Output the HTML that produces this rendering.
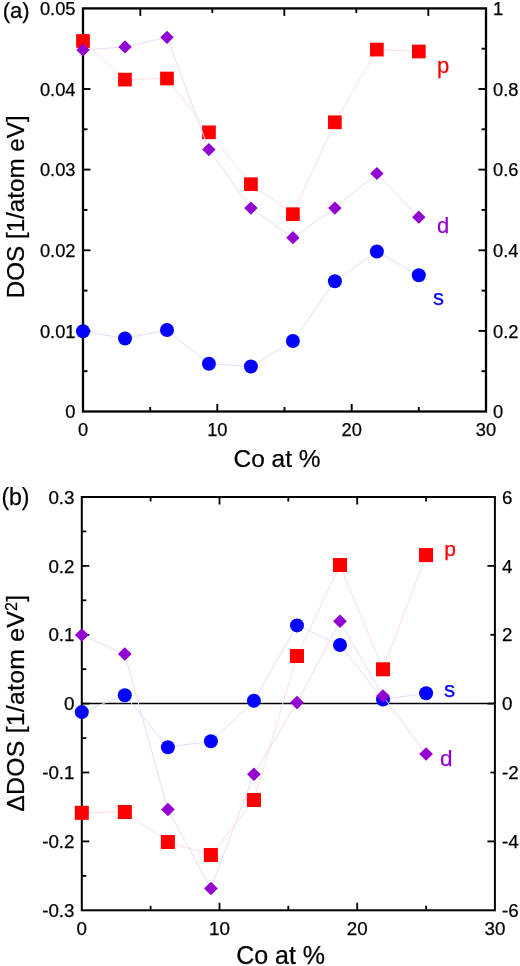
<!DOCTYPE html><html><head><meta charset="utf-8"><title>DOS vs Co at %</title>
<style>html,body{margin:0;padding:0;background:#fff}svg{display:block}text{font-family:"Liberation Sans",Arial,sans-serif;fill:#000;stroke:#000;stroke-width:.25px}</style></head><body>
<svg width="520" height="966" viewBox="0 0 520 966">
<rect width="520" height="966" fill="#fff"/>
<g stroke="#000" stroke-width="1.90" fill="none"><path d="M217.3 411.5v-7.5"/><path d="M351.7 411.5v-7.5"/><path d="M150.2 411.5v-4.5"/><path d="M284.5 411.5v-4.5"/><path d="M418.8 411.5v-4.5"/><path d="M140.3 8.4v7.5"/><path d="M284.3 8.4v7.5"/><path d="M428.3 8.4v7.5"/><path d="M212.3 8.4v4.5"/><path d="M356.3 8.4v4.5"/><path d="M83.0 330.9h7.5"/><path d="M83.0 250.3h7.5"/><path d="M83.0 169.6h7.5"/><path d="M83.0 89.0h7.5"/><path d="M83.0 371.2h4.5"/><path d="M83.0 290.6h4.5"/><path d="M83.0 209.9h4.5"/><path d="M83.0 129.3h4.5"/><path d="M83.0 48.7h4.5"/><path d="M486.0 330.9h-7.5"/><path d="M486.0 250.3h-7.5"/><path d="M486.0 169.6h-7.5"/><path d="M486.0 89.0h-7.5"/><path d="M486.0 371.2h-4.5"/><path d="M486.0 290.6h-4.5"/><path d="M486.0 209.9h-4.5"/><path d="M486.0 129.3h-4.5"/><path d="M486.0 48.7h-4.5"/></g><rect x="83.00" y="8.40" width="403.00" height="403.10" fill="none" stroke="#000" stroke-width="2.30"/>
<polyline fill="none" stroke="#dcdfff" stroke-width="1" points="83.0,331.2 125.0,338.5 167.0,330.0 208.9,363.8 250.9,366.5 292.9,341.0 334.9,281.2 376.9,251.5 418.8,275.2"/>
<circle cx="83.0" cy="331.2" r="7.00" fill="#0404fb"/>
<circle cx="125.0" cy="338.5" r="7.00" fill="#0404fb"/>
<circle cx="167.0" cy="330.0" r="7.00" fill="#0404fb"/>
<circle cx="208.9" cy="363.8" r="7.00" fill="#0404fb"/>
<circle cx="250.9" cy="366.5" r="7.00" fill="#0404fb"/>
<circle cx="292.9" cy="341.0" r="7.00" fill="#0404fb"/>
<circle cx="334.9" cy="281.2" r="7.00" fill="#0404fb"/>
<circle cx="376.9" cy="251.5" r="7.00" fill="#0404fb"/>
<circle cx="418.8" cy="275.2" r="7.00" fill="#0404fb"/>
<polyline fill="none" stroke="#ffdde0" stroke-width="1" points="83.0,41.0 125.0,79.6 167.0,78.5 208.9,132.3 250.9,184.2 292.9,214.2 334.9,122.3 376.9,49.6 418.8,51.5"/>
<rect x="76.15" y="34.15" width="13.70" height="13.70" fill="#ff0000"/>
<rect x="118.13" y="72.75" width="13.70" height="13.70" fill="#ff0000"/>
<rect x="160.11" y="71.65" width="13.70" height="13.70" fill="#ff0000"/>
<rect x="202.09" y="125.45" width="13.70" height="13.70" fill="#ff0000"/>
<rect x="244.07" y="177.35" width="13.70" height="13.70" fill="#ff0000"/>
<rect x="286.05" y="207.35" width="13.70" height="13.70" fill="#ff0000"/>
<rect x="328.02" y="115.45" width="13.70" height="13.70" fill="#ff0000"/>
<rect x="370.00" y="42.75" width="13.70" height="13.70" fill="#ff0000"/>
<rect x="411.98" y="44.65" width="13.70" height="13.70" fill="#ff0000"/>
<polyline fill="none" stroke="#eed8f4" stroke-width="1" points="83.0,50.0 125.0,46.9 167.0,37.3 208.9,149.6 250.9,208.1 292.9,237.7 334.9,208.1 376.9,173.5 418.8,217.2"/>
<path d="M83.0 43.40l6.70 6.60 -6.70 6.60 -6.70 -6.60z" fill="#9200d2"/>
<path d="M125.0 40.30l6.70 6.60 -6.70 6.60 -6.70 -6.60z" fill="#9200d2"/>
<path d="M167.0 30.70l6.70 6.60 -6.70 6.60 -6.70 -6.60z" fill="#9200d2"/>
<path d="M208.9 143.00l6.70 6.60 -6.70 6.60 -6.70 -6.60z" fill="#9200d2"/>
<path d="M250.9 201.50l6.70 6.60 -6.70 6.60 -6.70 -6.60z" fill="#9200d2"/>
<path d="M292.9 231.10l6.70 6.60 -6.70 6.60 -6.70 -6.60z" fill="#9200d2"/>
<path d="M334.9 201.50l6.70 6.60 -6.70 6.60 -6.70 -6.60z" fill="#9200d2"/>
<path d="M376.9 166.90l6.70 6.60 -6.70 6.60 -6.70 -6.60z" fill="#9200d2"/>
<path d="M418.8 210.60l6.70 6.60 -6.70 6.60 -6.70 -6.60z" fill="#9200d2"/>
<g font-size="18.3" text-anchor="end">
<text x="75.5" y="418.1">0</text>
<text x="75.5" y="337.5">0.01</text>
<text x="75.5" y="256.9">0.02</text>
<text x="75.5" y="176.2">0.03</text>
<text x="75.5" y="95.6">0.04</text>
<text x="75.5" y="15.0">0.05</text>
</g><g font-size="18.3" text-anchor="start">
<text x="493" y="418.1">0</text>
<text x="493" y="337.5">0.2</text>
<text x="493" y="256.9">0.4</text>
<text x="493" y="176.2">0.6</text>
<text x="493" y="95.6">0.8</text>
<text x="493" y="15.0">1</text>
</g><g font-size="18.3" text-anchor="middle">
<text x="83.0" y="435.8">0</text>
<text x="217.3" y="435.8">10</text>
<text x="351.7" y="435.8">20</text>
<text x="486.0" y="435.8">30</text>
</g>
<text x="277" y="467" font-size="24.4" text-anchor="middle">Co at %</text>
<text transform="translate(24,206.8) rotate(-90)" font-size="24.2" text-anchor="middle">DOS [1/atom eV]</text>
<text x="2.8" y="18.2" font-size="22">(a)</text>
<text x="437" y="73" font-size="22" style="fill:#ff0000;stroke:#ff0000">p</text>
<text x="437" y="233" font-size="22" style="fill:#9200d2;stroke:#9200d2">d</text>
<text x="433" y="305" font-size="22" style="fill:#0404fb;stroke:#0404fb">s</text>
<path d="M81.8 703.6H494.9" stroke="#000" stroke-width="1.5"/>
<g stroke="#000" stroke-width="1.80" fill="none"><path d="M219.5 910.3v-7.5"/><path d="M357.2 910.3v-7.5"/><path d="M150.6 910.3v-4.5"/><path d="M288.3 910.3v-4.5"/><path d="M426.1 910.3v-4.5"/><path d="M219.5 497.0v7.5"/><path d="M357.2 497.0v7.5"/><path d="M150.6 497.0v4.5"/><path d="M288.3 497.0v4.5"/><path d="M426.1 497.0v4.5"/><path d="M81.8 841.4h7.5"/><path d="M81.8 772.5h7.5"/><path d="M81.8 703.6h7.5"/><path d="M81.8 634.8h7.5"/><path d="M81.8 565.9h7.5"/><path d="M81.8 875.9h4.5"/><path d="M81.8 807.0h4.5"/><path d="M81.8 738.1h4.5"/><path d="M81.8 669.2h4.5"/><path d="M81.8 600.3h4.5"/><path d="M81.8 531.4h4.5"/><path d="M494.9 841.4h-7.5"/><path d="M494.9 703.6h-7.5"/><path d="M494.9 565.9h-7.5"/><path d="M494.9 772.5h-4.5"/><path d="M494.9 634.8h-4.5"/></g><rect x="81.80" y="497.00" width="413.10" height="413.30" fill="none" stroke="#000" stroke-width="2.00"/>
<polyline fill="none" stroke="#dcdfff" stroke-width="1" points="81.8,712.1 124.8,695.2 167.9,747.2 210.9,741.3 253.9,700.7 297.0,625.4 340.0,645.0 383.0,699.5 426.1,693.2"/>
<circle cx="81.8" cy="712.1" r="7.00" fill="#0404fb"/>
<circle cx="124.8" cy="695.2" r="7.00" fill="#0404fb"/>
<circle cx="167.9" cy="747.2" r="7.00" fill="#0404fb"/>
<circle cx="210.9" cy="741.3" r="7.00" fill="#0404fb"/>
<circle cx="253.9" cy="700.7" r="7.00" fill="#0404fb"/>
<circle cx="297.0" cy="625.4" r="7.00" fill="#0404fb"/>
<circle cx="340.0" cy="645.0" r="7.00" fill="#0404fb"/>
<circle cx="383.0" cy="699.5" r="7.00" fill="#0404fb"/>
<circle cx="426.1" cy="693.2" r="7.00" fill="#0404fb"/>
<polyline fill="none" stroke="#ffdde0" stroke-width="1" points="81.8,812.8 124.8,812.0 167.9,842.0 210.9,855.0 253.9,800.0 297.0,656.0 340.0,565.0 383.0,669.3 426.1,555.1"/>
<rect x="74.78" y="805.78" width="14.04" height="14.04" fill="#ff0000"/>
<rect x="117.81" y="804.98" width="14.04" height="14.04" fill="#ff0000"/>
<rect x="160.84" y="834.98" width="14.04" height="14.04" fill="#ff0000"/>
<rect x="203.87" y="847.98" width="14.04" height="14.04" fill="#ff0000"/>
<rect x="246.90" y="792.98" width="14.04" height="14.04" fill="#ff0000"/>
<rect x="289.94" y="648.98" width="14.04" height="14.04" fill="#ff0000"/>
<rect x="332.97" y="557.98" width="14.04" height="14.04" fill="#ff0000"/>
<rect x="376.00" y="662.28" width="14.04" height="14.04" fill="#ff0000"/>
<rect x="419.03" y="548.08" width="14.04" height="14.04" fill="#ff0000"/>
<polyline fill="none" stroke="#eed8f4" stroke-width="1" points="81.8,635.1 124.8,654.1 167.9,809.6 210.9,888.5 253.9,774.3 297.0,702.5 340.0,621.3 383.0,696.1 426.1,754.1"/>
<path d="M81.8 628.34l6.87 6.76 -6.87 6.76 -6.87 -6.76z" fill="#9200d2"/>
<path d="M124.8 647.34l6.87 6.76 -6.87 6.76 -6.87 -6.76z" fill="#9200d2"/>
<path d="M167.9 802.84l6.87 6.76 -6.87 6.76 -6.87 -6.76z" fill="#9200d2"/>
<path d="M210.9 881.74l6.87 6.76 -6.87 6.76 -6.87 -6.76z" fill="#9200d2"/>
<path d="M253.9 767.53l6.87 6.76 -6.87 6.76 -6.87 -6.76z" fill="#9200d2"/>
<path d="M297.0 695.74l6.87 6.76 -6.87 6.76 -6.87 -6.76z" fill="#9200d2"/>
<path d="M340.0 614.53l6.87 6.76 -6.87 6.76 -6.87 -6.76z" fill="#9200d2"/>
<path d="M383.0 689.34l6.87 6.76 -6.87 6.76 -6.87 -6.76z" fill="#9200d2"/>
<path d="M426.1 747.34l6.87 6.76 -6.87 6.76 -6.87 -6.76z" fill="#9200d2"/>
<g font-size="18.75" text-anchor="end">
<text x="74.5" y="916.9">-0.3</text>
<text x="74.5" y="848.0">-0.2</text>
<text x="74.5" y="779.1">-0.1</text>
<text x="74.5" y="710.2">0</text>
<text x="74.5" y="641.4">0.1</text>
<text x="74.5" y="572.5">0.2</text>
<text x="74.5" y="503.6">0.3</text>
</g><g font-size="18.75" text-anchor="start">
<text x="502" y="916.9">-6</text>
<text x="502" y="848.0">-4</text>
<text x="502" y="779.1">-2</text>
<text x="502" y="710.2">0</text>
<text x="502" y="641.4">2</text>
<text x="502" y="572.5">4</text>
<text x="502" y="503.6">6</text>
</g><g font-size="18.75" text-anchor="middle">
<text x="81.8" y="935">0</text>
<text x="219.5" y="935">10</text>
<text x="357.2" y="935">20</text>
<text x="494.9" y="935">30</text>
</g>
<text x="280.6" y="963.8" font-size="25" text-anchor="middle">Co at %</text>
<text transform="translate(23.6,703.2) rotate(-90)" font-size="24.8" letter-spacing=".25" text-anchor="middle">ΔDOS [1/atom eV<tspan font-size="16" dy="-6.5">2</tspan><tspan dy="6.5">]</tspan></text>
<text x="1.4" y="504.5" font-size="23">(b)</text>
<text x="444.3" y="556.2" font-size="21" style="fill:#ff0000;stroke:#ff0000">p</text>
<text x="444" y="697" font-size="22.5" style="fill:#0404fb;stroke:#0404fb">s</text>
<text x="440" y="765.6" font-size="22.5" style="fill:#9200d2;stroke:#9200d2">d</text>
</svg></body></html>
